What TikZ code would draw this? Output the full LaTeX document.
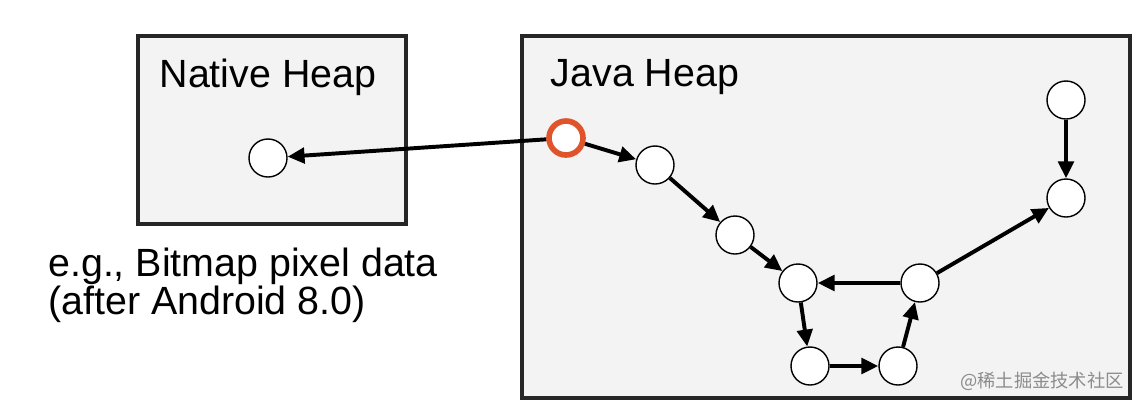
\documentclass[tikz,border=0pt]{standalone}
\usepackage{fontspec}
\setmainfont{Liberation Sans}
\newfontfamily\cjk{Noto Sans CJK SC}
\usetikzlibrary{arrows.meta}
\definecolor{heapfill}{HTML}{F3F3F3}
\definecolor{rootred}{HTML}{E0542C}
\begin{document}
\begin{tikzpicture}
		[x=0.025cm,y=-0.025cm,
		obj/.style={shape=circle,draw,fill=white,line width=1pt,minimum size=0.95cm,inner sep=0pt},
		heap/.style={draw=black!85,fill=heapfill,line width=2.4pt},
		ref/.style={line width=2.8pt,-{Triangle[length=12pt,width=11pt]}},
		lbl/.style={font=\fontsize{28}{31}\selectfont,inner sep=0pt}]
		\useasboundingbox (0,0) rectangle (1136,404);
		\draw[heap] (138,36) rectangle (406,224);
		\draw[heap] (522,36) rectangle (1130,398);
		\node[lbl] (tn) at (268,77) {Native Heap};
		\node[lbl] (tj) at (645,77) {Java Heap};
		\node[lbl,anchor=west] (t1) at (48,266) {e.g., Bitmap pixel data};
		\node[lbl,anchor=west] (t2) at (48,304) {(after Android 8.0)};
		\node[inner sep=0pt,text=black!45,font=\cjk\fontsize{13}{15}\selectfont] (wm) at (1042,381) {@稀土掘金技术社区};
		% objects
		\node[obj] (nat) at (268,158) {};
		\node[obj,draw=rootred,line width=4pt,minimum size=0.85cm] (root) at (566,138) {};
		\node[obj] (o1) at (655,165) {};
		\node[obj] (o2) at (735,235) {};
		\node[obj] (o3) at (798,283) {};
		\node[obj] (o4) at (920,283) {};
		\node[obj] (o5) at (810,366) {};
		\node[obj] (o6) at (898,366) {};
		\node[obj] (o7) at (1066,100) {};
		\node[obj] (o8) at (1066,198) {};
		\foreach \from/\to in {root/nat,root/o1,o1/o2,o2/o3,o4/o3,o3/o5,o5/o6,o6/o4,o4/o8,o7/o8}
		\draw[ref] (\from) -- (\to);
\end{tikzpicture}
\end{document}
